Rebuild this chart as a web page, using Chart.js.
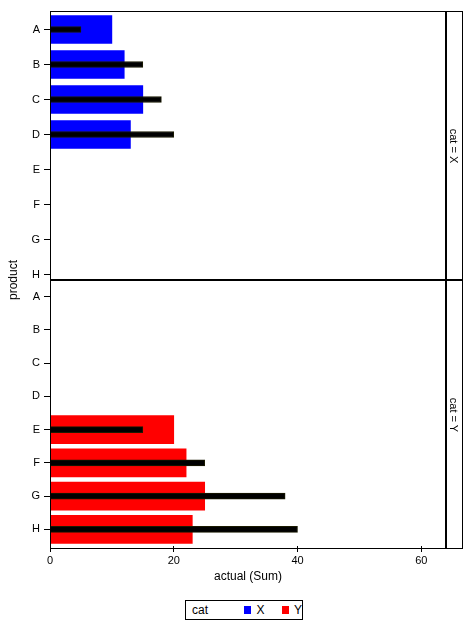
<!DOCTYPE html>
<html><head><meta charset="utf-8">
<script src="https://cdn.jsdelivr.net/npm/chart.js@4"></script>
<style>
body{margin:0;background:#fff;font-family:"Liberation Sans",Arial,sans-serif;}
#wrap{position:relative;width:474px;height:632px;}
canvas{position:absolute;}
.frame{position:absolute;border:1px solid #000;box-sizing:border-box;pointer-events:none;}
.strip{position:absolute;font-size:11px;display:flex;align-items:center;justify-content:center;}
.strip span{transform:rotate(90deg);white-space:nowrap;}
</style></head><body>
<div id="wrap">
<canvas id="c1" style="left:0;top:0"></canvas>
<canvas id="c2" style="left:0;top:280px"></canvas>
<div class="frame" style="left:50px;top:11px;width:413px;height:270px;border-width:1px 1px 2px 1px"></div>
<div class="frame" style="left:50px;top:280px;width:413px;height:269px;"></div>
<div class="frame" style="left:445px;top:11px;width:2px;height:538px;border-width:0 0 0 2px"></div>
<div class="strip" style="left:447px;top:12px;width:15px;height:268px"><span>cat = X</span></div>
<div class="strip" style="left:447px;top:281px;width:15px;height:268px"><span>cat = Y</span></div>
<div style="position:absolute;left:13px;top:280px;font-size:12px;transform:translate(-50%,-50%) rotate(-90deg)">product</div>
<div style="position:absolute;left:185px;top:600px;width:118px;height:20px;border:1px solid #000;box-sizing:border-box;font-size:12px;display:flex;align-items:center;">
<span style="margin-left:6px">cat</span>
<span style="display:inline-block;width:8px;height:8px;background:#0000ff;margin-left:36px"></span><span style="margin-left:5px">X</span>
<span style="display:inline-block;width:8px;height:8px;background:#ff0000;margin-left:17px"></span><span style="margin-left:5px">Y</span>
</div>
</div>
<script>
const products=["A","B","C","D","E","F","G","H"];
const xActual=[10,12,15,13,null,null,null,null];
const xOther=[5,15,18,20,null,null,null,null];
const yActual=[null,null,null,null,20,22,25,23];
const yOther=[null,null,null,null,15,25,38,40];
const xTicks=[0,20,40,60];
const font={family:"Liberation Sans",size:11};
function make(id,w,h,actual,other,color,showX){
  const cv=document.getElementById(id);cv.width=w;cv.height=h;cv.style.width=w+"px";cv.style.height=h+"px";
  return new Chart(cv,{type:"bar",
    data:{labels:products,datasets:[
      {data:other,backgroundColor:"#000",borderColor:"#1a1a00",borderWidth:1,barThickness:6,grouped:false,order:0},
      {data:actual,backgroundColor:color,borderColor:color,borderWidth:0,barThickness:28,grouped:false,order:1}]},
    options:{indexAxis:"y",responsive:false,animation:false,devicePixelRatio:1,
      layout:{padding:{top:12,right:0,left:0,bottom:0}},
      plugins:{legend:{display:false},tooltip:{enabled:false}},
      scales:{
        y:{afterFit(s){s.width=50;s.paddingTop=0;s.paddingBottom=0;},grid:{display:true,offset:false,drawOnChartArea:false,tickLength:6,color:"#000"},border:{display:false},
           ticks:{color:"#000",font,padding:4}},
        x:{display:true,min:0,max:64,afterFit(s){s.height=showX?42:0;s.paddingLeft=0;s.paddingRight=0;},
           afterBuildTicks(s){s.ticks=xTicks.map(v=>({value:v}));},
           grid:{display:showX,drawOnChartArea:false,tickLength:6,color:"#000"},border:{display:false},
           ticks:{display:showX,color:"#000",font,padding:2,maxRotation:0},
           title:{display:showX,text:"actual (Sum)",color:"#000",font:{family:"Liberation Sans",size:12},padding:{top:2}}}
      }}});
}
make("c1",446,292,xActual,xOther,"#0000ff",false);
make("c2",446,320,yActual,yOther,"#ff0000",true);
document.getElementById("c2").style.top="268px";
</script>
</body></html>
